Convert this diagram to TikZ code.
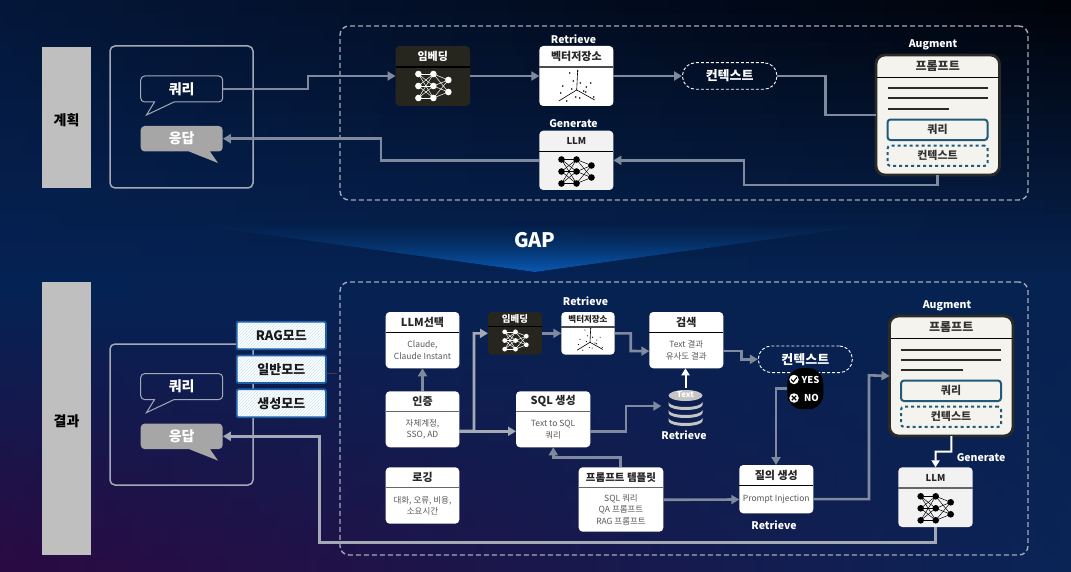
\documentclass[tikz,border=0pt]{standalone}
\usepackage{fontspec}
\setmainfont{Noto Sans CJK KR}
\usetikzlibrary{arrows.meta,calc,fit,fadings,patterns}

\definecolor{bgtl}{HTML}{04173A}
\definecolor{bgtm}{HTML}{020D24}
\definecolor{bgtr}{HTML}{00030A}
\definecolor{bgml}{HTML}{052254}
\definecolor{bgmm}{HTML}{06204F}
\definecolor{bgmr}{HTML}{062250}
\definecolor{bgbl}{HTML}{2A0A42}
\definecolor{bgbm}{HTML}{0E1C50}
\definecolor{bgbr}{HTML}{0A2456}
\definecolor{glow}{HTML}{0A5AB8}
\definecolor{linegray}{HTML}{7F8A9E}
\definecolor{boxgray}{HTML}{A3AAB6}
\definecolor{barcol}{HTML}{BFBFBF}
\definecolor{ansgray}{HTML}{A6A6A6}
\definecolor{darkcard}{HTML}{26261F}
\definecolor{cardgray}{HTML}{F2F2F2}
\definecolor{promptbg}{HTML}{F5F3EE}
\definecolor{promptedge}{HTML}{2A2A26}
\definecolor{partteal}{HTML}{1F5A7A}
\definecolor{modeblue}{HTML}{2060A8}
\definecolor{hatchblue}{HTML}{CDE6F5}

% card with a title row and a body
\newcommand{\card}[8]{
\coordinate (#1a) at (#2);
\coordinate (#1b) at (#3);
\node[cardbox,#5,fit=(#1a)(#1b)] (#1) {};
\draw[#6,line width=1.4pt] (#1a |- 0,#4) -- (#1b |- 0,#4);
\node[cardtitle] (#1t) at ($(#1a)!.5!(#1b |- 0,#4)$) {#7};
\node[cardbody] (#1d) at ($(#1a |- 0,#4)!.5!(#1b)$) {#8};
}

% the two speech bubbles, #1 and #2 name them, #3 moves them down
\newcommand{\bubbles}[3]{
\begin{scope}[shift={(0,#3)}]
\draw[boxgray,line width=1pt,rounded corners=4pt] (140.7,76) -- (222.7,76) -- (222.7,102) [sharp corners] -- (174,102) -- (146.5,115) -- (154.5,102) [rounded corners=4pt] -- (140.7,102) -- cycle;
\node[bubbletext,minimum width=82pt,minimum height=26pt] (#1) at (181.7,89) {쿼리};
\fill[ansgray,rounded corners=4pt] (140.7,126) -- (222.7,126) -- (222.7,151.5) [sharp corners] -- (210,151.5) -- (218,163) -- (189,151.5) [rounded corners=4pt] -- (140.7,151.5) -- cycle;
\node[bubbletext,minimum width=82pt,minimum height=25.5pt] (#2) at (181.7,138.7) {응답};
\end{scope}
}

% neural net glyph
\newcommand{\nnicon}[4]{
\begin{scope}[shift={(#1,#2)},scale=#4]
\foreach \ya in {-12,0,12} {
\foreach \yb in {-12,0,12} \draw[#3,line width=.5pt] (-15,\ya) -- (0,\yb);
\foreach \yb in {-6,6} \draw[#3,line width=.5pt] (0,\ya) -- (15,\yb);
}
\foreach \ya in {-12,0,12} {
\fill[#3] (-15,\ya) circle[radius=3.3pt];
\fill[#3] (0,\ya) circle[radius=3.3pt];
}
\foreach \ya in {-6,6} \fill[#3] (15,\ya) circle[radius=3.3pt];
\end{scope}
}

% axes with a cloud of points
\newcommand{\scatterplot}[3]{
\begin{scope}[shift={(#1,#2)},scale=#3]
\draw[black,line width=.6pt] (1,-20) -- (0,0) (-18,11) -- (0,0) -- (18,10);
\foreach \px/\py in {-7/-17,3.5/-7,14/-7,9.5/-3,-3.5/-9,-5/-1,-14/-4,-16/3,7/1,-10/11,-1/7,3/8,17/7,9/2,1/-19}
\fill[black] (\px,\py) circle[radius=.8pt];
\end{scope}
}

% prompt card, #2 is its upper left corner
\newcommand{\promptcard}[2]{
\begin{scope}[shift={(#2)}]
\coordinate (#1a) at (0,0);
\coordinate (#1b) at (123.5,120);
\node[promptbox,fit=(#1a)(#1b)] (#1) {};
\draw[black,line width=1pt] (1,22.3) -- (122.5,22.3);
\node[prompttitle] (#1t) at (61.7,11) {프롬프트};
\draw[promptedge,line width=2pt] (11.5,33.5) -- (111.5,33.5);
\draw[promptedge,line width=2pt] (11.5,43.5) -- (111.5,43.5);
\draw[promptedge,line width=2pt] (11.5,54) -- (73,54);
\node[promptpart,minimum width=100pt,minimum height=20.5pt] (#1q) at (61.5,74.8) {쿼리};
\node[promptpart,dashed,minimum width=100pt,minimum height=20.3pt] (#1c) at (61.5,100.8) {컨텍스트};
\end{scope}
}

\begin{document}
\begin{tikzpicture}[x=1pt,y=-1pt,
bar/.style={fill=barcol,text=black,inner sep=0},
bartext/.style={text=black,inner sep=0,font=\fontsize{14}{16}\bfseries\selectfont},
outerbox/.style={draw=boxgray,line width=1.5pt,rounded corners=5pt,inner sep=0},
dashbox/.style={draw=boxgray,line width=1.4pt,dash pattern=on 5pt off 3pt,rounded corners=9pt,inner sep=0},
bubbletext/.style={text=white,inner sep=0,font=\fontsize{14}{16}\bfseries\selectfont},
cardbox/.style={rounded corners=4pt,inner sep=0,outer sep=0},
whitecard/.style={fill=white},
lightcard/.style={fill=cardgray},
blackcard/.style={fill=darkcard},
cardtitle/.style={text=black!85,inner sep=0,font=\fontsize{11}{13}\bfseries\selectfont},
cardbody/.style={text=black!65,inner sep=0,align=center,font=\fontsize{8.5}{11.5}\selectfont},
promptbox/.style={draw=promptedge,line width=2.8pt,fill=promptbg,rounded corners=9pt,inner sep=0,outer sep=0},
prompttitle/.style={text=black!80,inner sep=0,font=\fontsize{12}{14}\bfseries\selectfont},
promptpart/.style={draw=partteal,line width=2pt,fill=promptbg,text=black!80,rounded corners=3pt,inner sep=0,font=\fontsize{11}{13}\bfseries\selectfont},
pill/.style={draw=white,densely dashed,line width=.9pt,rounded corners=13pt,text=white,inner sep=0,font=\fontsize{13}{15}\bfseries\selectfont},
mode/.style={draw=modeblue,line width=1.8pt,preaction={fill=white},pattern=north east lines,pattern color=hatchblue,rounded corners=2pt,text=black!90,inner sep=0,font=\fontsize{13}{15}\bfseries\selectfont},
tag/.style={text=white,inner sep=0,font=\fontsize{10.5}{12}\bfseries\selectfont},
conn/.style={draw=linegray,line width=2.6pt,-{Triangle[width=9pt,length=8pt]}},
wire/.style={draw=linegray,line width=2.6pt},
whiteconn/.style={draw=white,line width=2pt,-{Triangle[width=8pt,length=7pt]}},
tickmark/.style={circle,fill=white,inner sep=0,minimum size=9.5pt},
]
\useasboundingbox (0,0) rectangle (1071,572);

% background
\foreach \i in {0,...,19} {
\pgfmathtruncatemacro{\p}{100*\i/19}
\fill[left color=bgml!\p!bgtl,middle color=bgmm!\p!bgtm,right color=bgmr!\p!bgtr] (0,\i*14.3) rectangle (1071,\i*14.3+15);
\fill[left color=bgbl!\p!bgml,middle color=bgbm!\p!bgmm,right color=bgbr!\p!bgmr] (0,286+\i*14.3) rectangle (1071,286+\i*14.3+15);
}
\fill[top color=glow,bottom color=glow,path fading=north] (175,222) -- (535,272) -- (895,222) -- cycle;
\node[text=white,inner sep=0,font=\fontsize{20}{22}\bfseries\selectfont] (gap) at (535,240) {GAP};

% plan row
\coordinate (bar1a) at (42,47);
\coordinate (bar1b) at (91,188);
\node[bar,fit=(bar1a)(bar1b)] (bar1) {};
\node[bartext] (bar1t) at ([yshift=-3pt]bar1.center) {계획};
\coordinate (out1a) at (110,46);
\coordinate (out1b) at (253,188);
\node[outerbox,fit=(out1a)(out1b)] (out1) {};
\coordinate (dash1a) at (340,26);
\coordinate (dash1b) at (1028,200);
\node[dashbox,fit=(dash1a)(dash1b)] (dash1) {};
\bubbles{qryA}{ansA}{0}

\card{embA}{395.5,46}{470,106}{67}{blackcard}{black}{\color{white}임베딩}{}
\nnicon{433.4}{86}{white}{1}
\card{vecA}{539.3,46}{613.4,106}{67}{whitecard}{black!70}{벡터저장소}{}
\scatterplot{576.7}{90}{1}
\card{llmA}{539.3,130.7}{613.4,190}{151.3}{lightcard}{black}{\fontsize{9.5}{11}\selectfont LLM}{}
\nnicon{576.5}{171.5}{black}{1}
\node[pill,minimum width=94.5pt,minimum height=26.6pt] (ctxA) at (729.7,76) {컨텍스트};
\promptcard{prmA}{876,55}

\node[tag] (retA) at (573.5,39) {Retrieve};
\node[tag] (genA) at (573.5,124) {Generate};
\node[tag] (augA) at (933,44.5) {Augment};

\draw[conn] (qryA.east) -| (308,76) -- (embA.west);
\draw[conn] (embA.east) -- (vecA.west);
\draw[conn] (vecA.east) -- (ctxA.west);
\draw[wire] (ctxA.east) -| (825.5,115) -- (prmA.west);
\draw[conn] (prmA.south) |- (744,185) |- (llmA.east);
\draw[conn] (llmA.west) -| (381,138.7) -- (ansA.east);

% result row
\coordinate (bar2a) at (42,282);
\coordinate (bar2b) at (91,555);
\node[bar,fit=(bar2a)(bar2b)] (bar2) {};
\node[bartext] (bar2t) at ([yshift=-3pt]bar2.center) {결과};
\coordinate (out2a) at (110,344);
\coordinate (out2b) at (253,485);
\node[outerbox,fit=(out2a)(out2b)] (out2) {};
\coordinate (dash2a) at (340,282);
\coordinate (dash2b) at (1028,555);
\node[dashbox,fit=(dash2a)(dash2b)] (dash2) {};
\bubbles{qryB}{ansB}{297.6}

\node[mode,minimum width=89.3pt,minimum height=27.6pt] (rag) at (281.3,335.5) {RAG모드};
\node[mode,minimum width=89.3pt,minimum height=27.6pt] (plain) at (281.3,369.2) {일반모드};
\node[mode,minimum width=89.3pt,minimum height=28pt] (gen) at (281.3,403.3) {생성모드};
\coordinate (stub) at (337,373);
\draw[black!75,line width=1pt] (plain.east |- stub) -- (stub);

\card{sel}{385.7,312}{459.3,368.3}{332.3}{whitecard}{black}{LLM선택}{Claude,\\Claude Instant}
\card{auth}{385.7,391.3}{459.3,447.3}{411.7}{whitecard}{black!60}{인증}{자체계정,\\SSO, AD}
\card{logs}{385.7,467.3}{459.3,523.7}{487.7}{whitecard}{black!60}{로깅}{대화, 오류, 비용,\\소요시간}
\card{embB}{488,312}{542,354.7}{326.7}{blackcard}{black}{\fontsize{9.5}{11}\selectfont\color{white}임베딩}{}
\nnicon{515.5}{340.5}{white}{.72}
\card{vecB}{561.3,312}{614.7,354.7}{327}{whitecard}{black!70}{\fontsize{8.5}{10}\selectfont 벡터저장소}{}
\scatterplot{590}{342.3}{.72}
\card{find}{649.3,312}{723.3,368.3}{332.3}{whitecard}{black}{검색}{Text 결과\\유사도 결과}
\card{sql}{516,391.3}{590.3,447.3}{411.7}{whitecard}{black!60}{SQL 생성}{Text to SQL\\쿼리}
\card{tmpl}{578.7,467.3}{663.3,531.7}{487.7}{whitecard}{black!60}{\fontsize{10.5}{12}\selectfont 프롬프트 템플릿}{SQL 쿼리\\QA 프롬프트\\RAG 프롬프트}
\card{qgen}{739.3,465}{813.3,513.3}{485.3}{whitecard}{black}{질의 생성}{Prompt Injection}
\card{llmB}{898.3,467.3}{972.7,527}{488}{lightcard}{black!60}{\fontsize{9.5}{11}\selectfont LLM}{}
\nnicon{935.7}{508.3}{black}{1}
\node[pill,minimum width=94pt,minimum height=26.7pt] (ctxB) at (805.3,359.3) {컨텍스트};
\promptcard{prmB}{889.5,316}

% text store
\node[minimum width=48pt,minimum height=36pt,inner sep=0] (store) at (685.5,406) {};
\foreach \yy in {402,410,418}
\fill[barcol!90] (668.5,\yy) -- (668.5,\yy+3) arc[start angle=180,end angle=360,x radius=17pt,y radius=5pt] -- (702.5,\yy) arc[start angle=0,end angle=-180,x radius=17pt,y radius=5pt] -- cycle;
\fill[barcol!90] (685.5,395.5) ellipse[x radius=17pt,y radius=5.5pt];
\node[text=white,inner sep=0,font=\fontsize{8}{9}\bfseries\selectfont] (storet) at (685.5,395) {Text};

% yes or no
\node[fill=black,rounded corners=15pt,minimum width=36pt,minimum height=41pt,inner sep=0] (blob) at (805.3,388.7) {};
\node[tickmark] (yesm) at (794,379.5) {};
\draw[black,line width=1.1pt] (791.2,379.5) -- (793.4,381.8) -- (796.9,377.5);
\node[tickmark] (nom) at (794,398) {};
\draw[black,line width=1.1pt] (791.8,395.8) -- (796.2,400.2) (796.2,395.8) -- (791.8,400.2);
\node[text=white,inner sep=0,anchor=west,font=\fontsize{9.5}{11}\bfseries\selectfont] (yest) at (801.5,379.5) {YES};
\node[text=white,inner sep=0,anchor=west,font=\fontsize{9.5}{11}\bfseries\selectfont] (not) at (804,398) {NO};

\node[tag] (retB) at (585.5,301) {Retrieve};
\node[tag] (retC) at (684,435) {Retrieve};
\node[tag] (retD) at (774,525) {Retrieve};
\node[tag] (augB) at (947,305.5) {Augment};
\node[tag] (genB) at (981,458) {Generate};

\draw[conn] (auth.north) -- (sel.south);
\draw[conn,draw=boxgray] ([yshift=-12pt]auth.east) -- ([yshift=-12pt]sql.west);
\draw[conn,draw=boxgray] (auth.east |- 0,431) -| (474,333.3) -- (embB.west);
\draw[conn] (embB.east) -- (vecB.west);
\draw[conn] (vecB.east) -| (630.7,351) -- ([yshift=-11pt]find.west);
\draw[conn] ([yshift=-11pt]find.east) -| (741.7,359.3) -- (ctxB.west);
\draw[whiteconn] (store.north) -- (store.north |- find.south);
\draw[conn] ([yshift=-12pt]sql.east) -| (626,406) -- (store.west);
\draw[conn] (620.7,467.3) |- (553.3,457.3) -- (553.3,447.3);
\draw[conn] ([yshift=-.3pt]tmpl.east) -- (tmpl.east -| qgen.west);
\draw[conn] (blob.west) -| (776,465);
\draw[conn] ([yshift=-10pt]qgen.east) -| (869,375.3) -- (prmB.west);
\draw[whiteconn] (prmB.south) |- (935.7,451.7) -- (llmB.north);
\draw[conn,draw=boxgray] (llmB.south) |- (319.3,542.3) |- (ansB.east);
\end{tikzpicture}
\end{document}
